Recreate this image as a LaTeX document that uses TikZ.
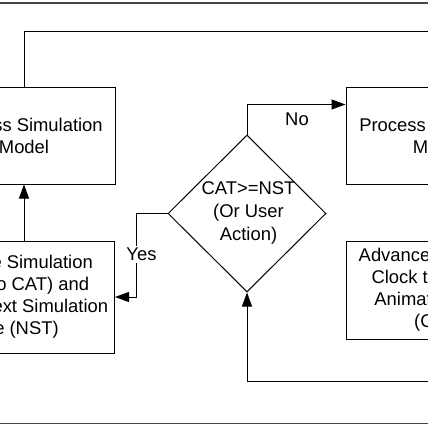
\documentclass[tikz,border=0pt]{standalone}
\usepackage{fontspec}
\setmainfont{Liberation Sans}
\usetikzlibrary{shapes.geometric,arrows.meta}
\begin{document}
\begin{tikzpicture}[x=1pt,y=-1pt,
  every node/.style={font=\fontsize{18.4}{22}\selectfont},
  box/.style={draw, line width=1pt, inner sep=0pt, align=center},
  conn/.style={line width=1pt},
  arr/.style={line width=1pt, -{Triangle[length=14pt,width=10pt]}},
  frameline/.style={line width=1.4pt, draw=black!72},
  lbl/.style={inner sep=2pt}
]
\useasboundingbox (0,0) rectangle (428,428);
\clip (0,0) rectangle (428,428);
\fill[white] (0,0) rectangle (428,428);

% frame lines
\coordinate (f1a) at (-5,3);
\coordinate (f1b) at (435,3);
\coordinate (f2a) at (-5,423.5);
\coordinate (f2b) at (435,423.5);
\draw[frameline] (f1a) -- (f1b);
\draw[frameline] (f2a) -- (f2b);

% boxes
\node[box, minimum width=182pt, minimum height=97pt] (ul) at (24,135.5)
  {Process Simulation\\Model};
\node[box, minimum width=206pt, minimum height=112pt] (ll) at (11.5,297)
  {Advance Simulation\\Clock (to CAT) and\\Update Next Simulation\\Time (NST)};
\node[box, minimum width=184pt, minimum height=97pt] (ur) at (438,135.5)
  {Process Simulation\\Model};
\node[box, minimum width=184pt, minimum height=98pt] (lr) at (438,290)
  {Advance Animation\\Clock to Current\\Animation Time\\(CAT)};

% decision
\node[draw, line width=1pt, diamond, inner sep=0pt, minimum width=158pt,
  minimum height=157pt] (dm) at (247,213.5) {};
\node[align=center, font=\fontsize{18.4}{22.8}\selectfont] (dmtxt) at (248.5,213)
  {CAT>=NST\\(Or User\\Action)};

% connectors
\draw[arr] (dm.north) -- ++(0,-30) coordinate (nok) -- (nok -| ur.west);
\node[lbl] (nolbl) at (297,119) {No};

\draw[arr] (dm.west) -- ++(-31,0) coordinate (yk) |- (ll.east);
\node[lbl, fill=white] (yeslbl) at (141.5,254.5) {Yes};

\coordinate (bl) at (440,381);
\draw[arr] (bl) -| (dm.south);

\coordinate (tl) at (440,32);
\draw[conn] (ul.north) |- (tl);

\draw[arr] (ll.north -| ul.south) -- (ul.south);
\end{tikzpicture}
\end{document}
